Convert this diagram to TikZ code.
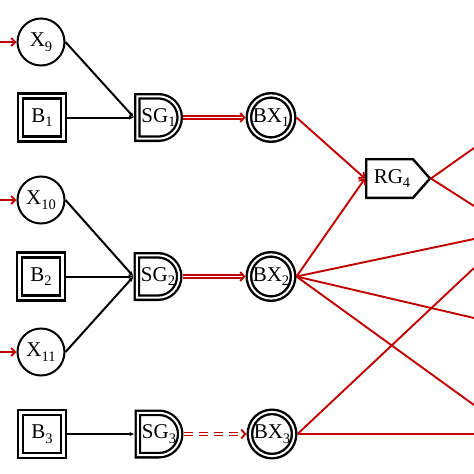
\documentclass[tikz,border=0pt]{standalone}
\usepackage{fontspec}
\setmainfont{Liberation Serif}
\usetikzlibrary{arrows.meta}
\definecolor{rl}{RGB}{192,0,0}
\newcommand\sbs[1]{\raisebox{-0.22em}{\fontsize{14.5}{14.5}\selectfont #1}}
\tikzset{
  lab/.style={font=\fontsize{21}{23}\selectfont, inner sep=0pt},
  xnode/.style={circle, draw, line width=2pt, minimum size=47pt, outer sep=1pt, lab},
  bnode/.style={rectangle, draw, line width=2.5pt, double, double distance=2.2pt, minimum size=43pt, outer sep=3.6pt, lab},
  bxnode/.style={circle, draw, line width=2.4pt, double, double distance=2pt, minimum size=44.2pt, outer sep=3.4pt, lab},
  sgnode/.style={rectangle, minimum size=49pt, outer sep=0pt, lab,
    append after command={\pgfextra{\draw[line width=2.3pt, double, double distance=2pt]
      ([shift={(3.3pt,-3.3pt)}]\tikzlastnode.north west) -- ([yshift=-3.3pt]\tikzlastnode.north)
      arc[start angle=90, end angle=-90, radius=21.2pt]
      -- ([shift={(3.3pt,3.3pt)}]\tikzlastnode.south west) -- cycle;}}},
  rgnode/.style={rectangle, minimum width=54pt, minimum height=41pt, outer sep=0pt, lab,
    append after command={\pgfextra{\draw[line width=2.4pt, line join=miter]
      (\tikzlastnode.center) ++(-25.8pt,19.3pt) -- ++(46.8pt,0pt) -- ++(17pt,-19.3pt)
      -- ++(-17pt,-19.3pt) -- ++(-46.8pt,0pt) -- cycle;}}},
  blk/.style={draw=black, line width=2pt, -{Latex[length=5pt,width=4.5pt]}},
  rin/.style={draw=rl, line width=1.9pt, -{Straight Barb[length=4pt,width=8pt]}},
  rdbl/.style={draw=rl, line width=1.3pt, double=white, double distance=1.6pt, -{Straight Barb[length=4pt,width=9pt,line width=1.9pt]}},
  rout/.style={draw=rl, line width=1.9pt},
}
\begin{document}
\begin{tikzpicture}[x=1pt,y=-1pt]
\useasboundingbox[fill=white] (0,0) rectangle (474,474);
% left free ends
\coordinate (i9) at (0,42);
\coordinate (i10) at (0,200);
\coordinate (i11) at (0,352);
% nodes
\node[xnode] (x9) at (41,42) {X\sbs{9}};
\node[bnode] (b1) at (42,117.5) {B\sbs{1}};
\node[sgnode] (sg1) at (158.5,117.5) {SG\sbs{1}};
\node[bxnode] (bx1) at (271,117.5) {BX\sbs{1}};
\node[xnode] (x10) at (41,200) {X\sbs{10}};
\node[bnode] (b2) at (41,276.5) {B\sbs{2}};
\node[sgnode] (sg2) at (158,276.5) {SG\sbs{2}};
\node[bxnode] (bx2) at (271,276.5) {BX\sbs{2}};
\node[xnode] (x11) at (41,352) {X\sbs{11}};
\node[bnode] (b3) at (42,434) {B\sbs{3}};
\node[sgnode] (sg3) at (159,434) {SG\sbs{3}};
\node[bxnode] (bx3) at (272,434) {BX\sbs{3}};
\node[rgnode] (rg4) at (392,178.5) {RG\sbs{4}};
\coordinate (rgtip) at (431,178.5);
% right free ends
\coordinate (o1) at (474,148);
\coordinate (o2) at (474,206);
\coordinate (o3) at (474,239);
\coordinate (o4) at (474,318);
\coordinate (o5) at (474,405);
\coordinate (o6) at (474,268);
\coordinate (o7) at (474,434);
% incoming
\draw[rin] (i9) -- (x9.west);
\draw[rin] (i10) -- (x10.west);
\draw[rin] (i11) -- (x11.west);
% black
\draw[blk] (x9.east) -- (sg1.west);
\draw[blk] (b1.east) -- (sg1.west);
\draw[blk] (x10.east) -- (sg2.west);
\draw[blk] (b2.east) -- (sg2.west);
\draw[blk] (x11.east) -- (sg2.west);
\draw[blk] (b3.east) -- (sg3.west);
% double red
\draw[rdbl] (sg1.east) -- (bx1.west);
\draw[rdbl] (sg2.east) -- (bx2.west);
\draw[rdbl, dash pattern=on 9pt off 6pt] (sg3.east) -- (bx3.west);
% to RG4
\draw[rin] (bx1.east) -- (rg4.west);
\draw[rin] (bx2.east) -- (rg4.west);
% outgoing
\draw[rout] (rgtip) -- (o1);
\draw[rout] (rgtip) -- (o2);
\draw[rout] (bx2.east) -- (o3);
\draw[rout] (bx2.east) -- (o4);
\draw[rout] (bx2.east) -- (o5);
\draw[rout] (bx3.east) -- (o6);
\draw[rout] (bx3.east) -- (o7);
\end{tikzpicture}
\end{document}
